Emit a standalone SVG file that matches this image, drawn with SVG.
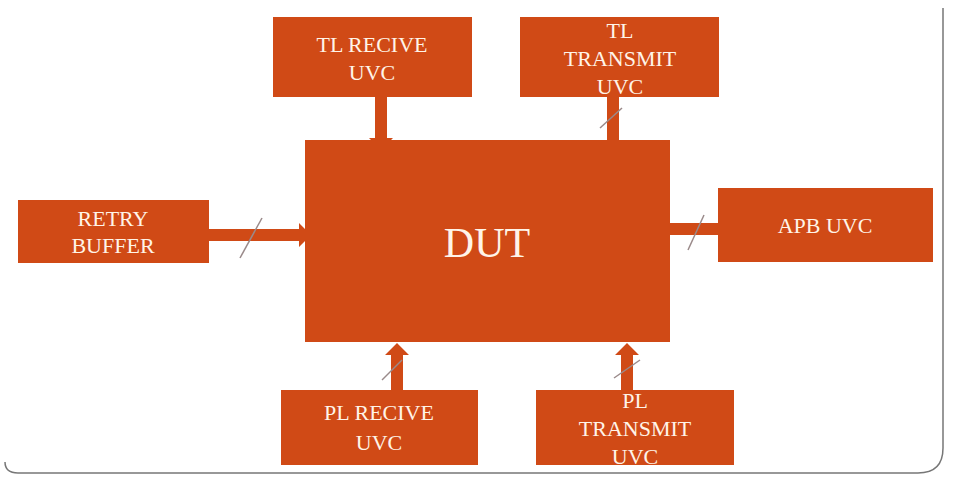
<svg xmlns="http://www.w3.org/2000/svg" width="954" height="488" viewBox="0 0 954 488">
<style>
.b{fill:#D04A16}
.t{fill:#FFF4E8;font-family:"Liberation Serif",serif;font-size:22px;text-anchor:middle}
.s{stroke:#9a8a8a;stroke-width:1.5}
.a{fill:#D04A16}
</style>
<rect width="954" height="488" fill="#fff"/>
<path d="M943 8 V448 Q943 473 918 473 H18 Q5 473 5 462" fill="none" stroke="#777" stroke-width="1.5"/>
<g id="connectors">
<polygon class="a" points="375,97 387,97 387,138 393,138 381,150 369,138 375,138"/>
<polygon class="a" points="607,97 619,97 619,143 625,143 613,155 601,143 607,143"/>
<polygon class="a" points="209,229 299,229 299,223 311,235 299,247 299,241 209,241"/>
<polygon class="a" points="718,223 667,223 667,218 655,229 667,240 667,235 718,235"/>
<polygon class="a" points="391,390 391,355 385,355 397,343 409,355 403,355 403,390"/>
<polygon class="a" points="621,390 621,355 615,355 627,343 639,355 633,355 633,390"/>
<line class="s" x1="240" y1="258" x2="262" y2="218"/>
<line class="s" x1="600" y1="128" x2="622" y2="108"/>
<line class="s" x1="688" y1="250" x2="704" y2="215"/>
<line class="s" x1="382" y1="380" x2="402" y2="360"/>
<line class="s" x1="614" y1="378" x2="640" y2="360"/>
</g>
<g id="tl-recive"><rect class="b" x="273" y="17" width="199" height="80"/><text class="t" x="372" y="52">TL RECIVE</text><text class="t" x="372" y="80">UVC</text></g>
<g id="tl-transmit"><rect class="b" x="520" y="17" width="199" height="80"/><text class="t" x="620" y="38">TL</text><text class="t" x="620" y="66">TRANSMIT</text><text class="t" x="620" y="94">UVC</text></g>
<g id="dut"><rect class="b" x="305" y="140" width="365" height="202"/><text class="t" x="487" y="257" style="font-size:42px">DUT</text></g>
<g id="retry-buffer"><rect class="b" x="18" y="200" width="191" height="63"/><text class="t" x="113" y="226">RETRY</text><text class="t" x="113" y="253">BUFFER</text></g>
<g id="apb-uvc"><rect class="b" x="718" y="188" width="215" height="74"/><text class="t" x="825" y="233">APB UVC</text></g>
<g id="pl-recive"><rect class="b" x="281" y="390" width="197" height="75"/><text class="t" x="379" y="420">PL RECIVE</text><text class="t" x="379" y="450">UVC</text></g>
<g id="pl-transmit"><rect class="b" x="536" y="390" width="198" height="75"/><text class="t" x="635" y="408">PL</text><text class="t" x="635" y="436">TRANSMIT</text><text class="t" x="635" y="464">UVC</text></g>
</svg>
